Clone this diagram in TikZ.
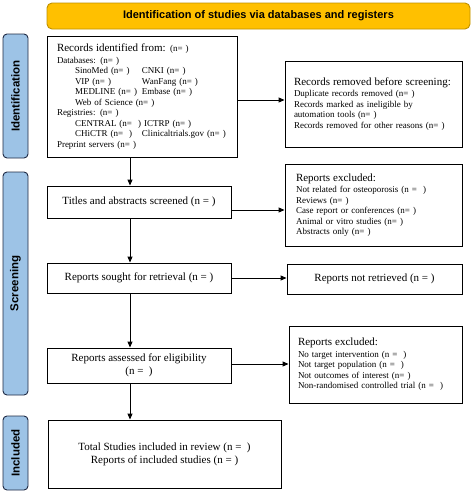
\documentclass[tikz,border=0pt]{standalone}
\usepackage{fontspec}
\setmainfont{Liberation Serif}
\setsansfont{Liberation Sans}
\newfontfamily\boxfont{Liberation Serif}
\usetikzlibrary{arrows.meta}
\definecolor{bannerfill}{HTML}{FFC000}
\definecolor{bannerdraw}{HTML}{BF9000}
\definecolor{sidefill}{HTML}{9DC3E6}
\definecolor{sidedraw}{HTML}{1F2A44}
\begin{document}
\begin{tikzpicture}[x=1pt,y=-1pt,
  box/.style={draw=black, line width=0.9pt, inner sep=0pt, align=center,
    font=\boxfont\fontsize{11}{13}\selectfont},
  listbox/.style={draw=black, line width=0.9pt, inner ysep=0pt, align=left,
    font=\boxfont\fontsize{9}{10.5}\selectfont},
  sidelab/.style={draw=sidedraw, fill=sidefill, rounded corners=4pt, line width=0.9pt,
    minimum height=25pt, inner sep=0pt, rotate=90,
    font=\sffamily\bfseries\fontsize{11.5}{13}\selectfont},
  banner/.style={draw=bannerdraw, fill=bannerfill, rounded corners=5pt, line width=0.9pt,
    inner sep=0pt, font=\sffamily\bfseries\fontsize{11}{13}\selectfont},
  arr/.style={-{Triangle[length=6pt,width=5pt]}, line width=0.9pt}]
\useasboundingbox (0,0) rectangle (474,496);
\newcommand{\hd}[1]{{\fontsize{11}{12}\selectfont #1}}

% banner and side labels
\node[banner, minimum width=423pt, minimum height=26pt] (ban) at (258.5,16)
  {Identification of studies via databases and registers};
\node[sidelab, minimum width=124pt] (idlab) at (15.5,96) {Identification};
\node[sidelab, minimum width=223pt] (scrlab) at (15.5,283.5) {Screening};
\node[sidelab, minimum width=74pt] (inclab) at (15.5,453) {Included};

% identification
\node[listbox, inner xsep=10pt, text width=170pt, minimum height=121pt] (recid) at (142,96.5)
  {\hd{Records identified from:} (n= )\\[1.5pt]
   Databases: (n= )\\
   \hspace*{18pt}\makebox[67pt][l]{SinoMed (n= )}CNKI (n= )\\
   \hspace*{18pt}\makebox[67pt][l]{VIP (n= )}WanFang (n= )\\
   \hspace*{18pt}\makebox[67pt][l]{MEDLINE (n= )}Embase (n= )\\
   \hspace*{18pt}Web of Science (n= )\\
   Registries: (n= )\\
   \hspace*{18pt}CENTRAL (n=\ \ ) ICTRP (n= )\\
   \hspace*{18pt}\makebox[67pt][l]{CHiCTR (n=\ \ )}Clinicaltrials.gov (n= )\\
   Preprint servers (n= )};
\node[listbox, inner xsep=9pt, text width=159pt, minimum height=86pt] (recrem) at (373.5,104)
  {\hd{Records removed before screening:}\\[1pt]
   Duplicate records removed (n= )\\
   Records marked as ineligible by\\
   automation tools (n= )\\
   Records removed for other reasons (n= )};

% screening
\node[box, minimum width=184pt, minimum height=32pt] (titles) at (139,202)
  {Titles and abstracts screened (n = )};
\node[listbox, inner xsep=11pt, text width=155pt, minimum height=82pt] (excla) at (373.5,205)
  {\hd{Reports excluded:}\\[1pt]
   Not related for osteoporosis (n =\ \ )\\
   Reviews (n= )\\
   Case report or conferences (n= )\\
   Animal or vitro studies (n= )\\
   Abstracts only (n= )};
\node[box, minimum width=184pt, minimum height=30pt] (sought) at (139,278)
  {Reports sought for retrieval (n = )};
\node[box, minimum width=175pt, minimum height=30pt] (notret) at (374.5,279)
  {Reports not retrieved (n = )};
\node[box, minimum width=184pt, minimum height=35pt] (assessed) at (139,365.5)
  {Reports assessed for eligibility\\(n =\ \ )};
\node[listbox, inner xsep=9pt, text width=155pt, minimum height=77pt] (exclb) at (375.5,364.5)
  {\hd{Reports excluded:}\\[1pt]
   No target intervention (n =\ \ )\\
   Not target population (n =\ \ )\\
   Not outcomes of interest (n= )\\
   Non-randomised controlled trial (n =\ \ )};

% included
\node[box, minimum width=233pt, minimum height=68pt] (incl) at (164.5,454)
  {Total Studies included in review (n =\ \ )\\Reports of included studies (n = )};

% connectors
\coordinate (spine) at (130,0);
\draw[arr] (recid.south -| spine) -- (titles.north -| spine);
\draw[arr] (titles.south -| spine) -- (sought.north -| spine);
\draw[arr] (sought.south -| spine) -- (assessed.north -| spine);
\draw[arr] (assessed.south -| spine) -- (incl.north -| spine);
\draw[arr] ([yshift=-3.5pt]recid.east) -- ([yshift=-3.5pt]recid.east -| recrem.west);
\draw[arr] ([yshift=-8pt]titles.east) -- ([yshift=-8pt]titles.east -| excla.west);
\draw[arr] (sought.east) -- (sought.east -| notret.west);
\draw[arr] ([yshift=1.5pt]assessed.east) -- ([yshift=1.5pt]assessed.east -| exclb.west);
\end{tikzpicture}
\end{document}
